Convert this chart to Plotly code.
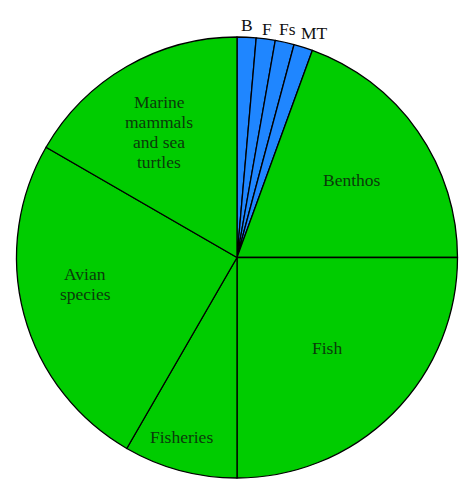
import plotly.graph_objects as go

# slice order, clockwise from 12 o'clock
labels = ["B", "F", "Fs", "MT", "Benthos", "Fish", "Fisheries",
          "Avian species", "Marine mammals and sea turtles"]
values = [1, 1, 1, 1, 14, 18, 6, 18, 12]
texts = ["B", "F", "Fs", "MT", "Benthos", "Fish", "Fisheries",
         "Avian<br>species", "Marine<br>mammals<br>and sea<br>turtles"]
colors = ["#1f86ff"] * 4 + ["#00cc00"] * 5

# where each label block is centred (pixels in the 474x495 page)
label_px = [(247, 25), (267, 29), (287, 29), (314, 33), (352, 180),
            (327, 348), (181, 437), (85, 284), (159, 132)]

PAD = 8  # default body margin of the html page
W, H = 474 - 2 * PAD, 495 - 2 * PAD
L, R, T, B = 16 - PAD, 16 - PAD, 37 - PAD, 17 - PAD
LINE = 20

fig = go.Figure()
fig.add_trace(go.Pie(labels=labels, values=values, sort=False,
                     direction="clockwise", rotation=0,
                     marker=dict(colors=colors, line=dict(color="#000000", width=1.3)),
                     textinfo="none", hoverinfo="label+value",
                     showlegend=False))

pw, ph = W - L - R, H - T - B
for i, (txt, (px, py)) in enumerate(zip(texts, label_px)):
    inner = i >= 4
    lines = txt.split("<br>")
    for k, line in enumerate(lines):
        ly = py + (k - (len(lines) - 1) / 2) * LINE
        fig.add_annotation(x=(px - PAD - L) / pw, y=1 - (ly - PAD - T) / ph,
                           xref="paper", yref="paper", text=line,
                           showarrow=False, xanchor="center", yanchor="middle",
                           font=dict(family="Liberation Serif", size=17.5,
                                     color="#0b3a0b" if inner else "#111111"))

fig.update_layout(width=W, height=H, margin=dict(l=L, r=R, t=T, b=B),
                  paper_bgcolor="white", plot_bgcolor="white")
fig.write_html("out.html")
